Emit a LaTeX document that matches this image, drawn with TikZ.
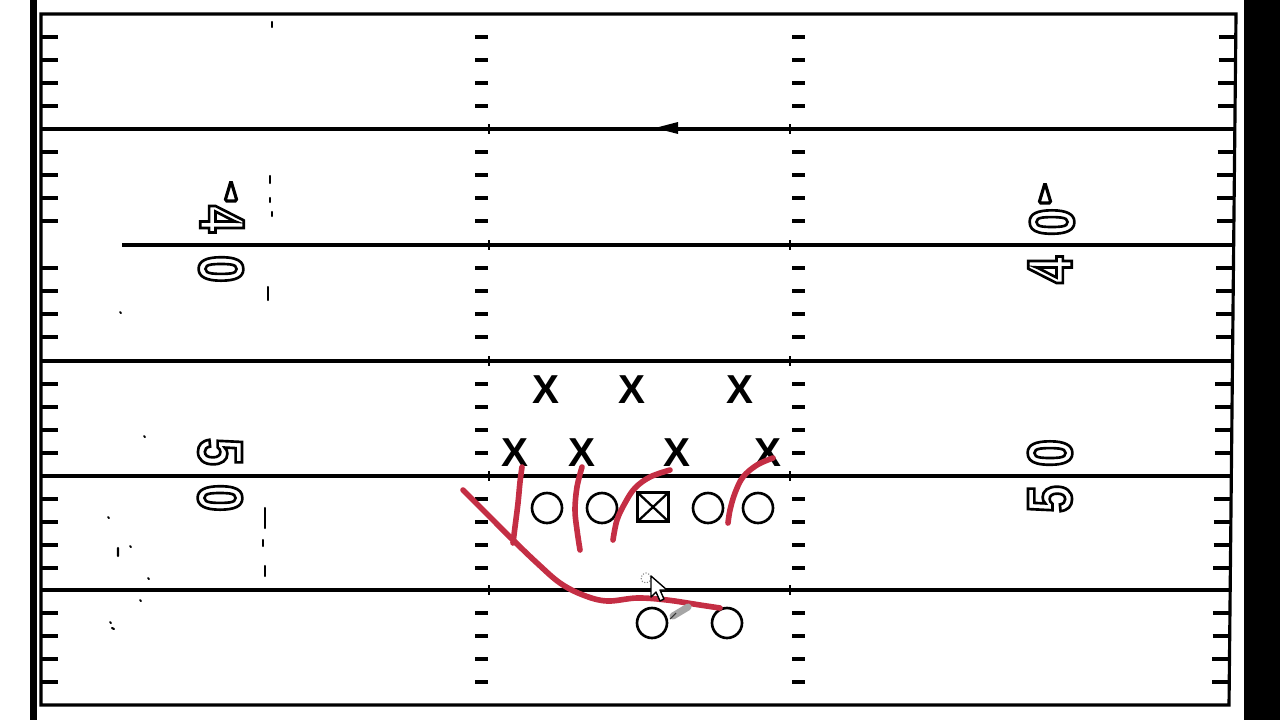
\documentclass[tikz,border=0pt]{standalone}
\usepackage{fontspec}
\setmainfont{Liberation Sans}
\newfontfamily\numfont[FakeStretch=0.78]{Liberation Sans}
\definecolor{routered}{RGB}{196,46,68}
\newcommand\outlinedigit[1]{\special{pdf:literal direct 1 Tr 1.5 w}#1\special{pdf:literal direct 0 Tr}}
\begin{document}
\begin{tikzpicture}[x=0.02cm,y=-0.02cm,
  fieldline/.style={line width=1.8pt},
  tickmark/.style={line width=2.2pt},
  offp/.style={circle,draw,line width=1.5pt,minimum size=0.6cm,inner sep=0pt},
  defp/.style={font=\fontsize{23}{23}\selectfont\bfseries,inner sep=0pt},
  ctrp/.style={rectangle,draw,line width=1.5pt,minimum width=0.62cm,minimum height=0.58cm,inner sep=0pt,
    path picture={\draw[line width=1.3pt] (path picture bounding box.north west) -- (path picture bounding box.south east)
      (path picture bounding box.north east) -- (path picture bounding box.south west);}},
  route/.style={draw=routered,line width=3.2pt,line cap=round,line join=round},
  yardnum/.style={font=\numfont\fontsize{36}{36}\selectfont\bfseries,inner sep=0pt},
  dirmark/.style={draw,fill=white,line width=1.8pt,rounded corners=1pt},
  speck/.style={line width=1.2pt,line cap=round}]
\useasboundingbox (0,0) rectangle (1280,720);
% scan edges
\fill (30,0) rectangle (37,720);
\fill (1244,0) rectangle (1280,720);
% field border
\draw[fieldline] (1236,14) -- (41,14) -- (41,705) -- (1229,705) -- cycle;
% yard lines
\foreach \y in {129,361,476,590}
  \draw[fieldline] (41,\y) -- ({1236-7*(\y-14)/691},\y);
\draw[fieldline] (122,245) -- ({1236-7*(245-14)/691},245);
% small mark on line
\fill (655,128) -- (678,122) -- (678,134) -- cycle;
% side ticks and hash marks
\foreach \L in {14,129,245,361,476,590}{
  \foreach \j in {1,2,3,4}{
    \pgfmathsetmacro\yy{\L+23*\j}
    \pgfmathsetmacro\rx{1236-7*(\yy-14)/691}
    \draw[tickmark] (41,\yy) -- (58,\yy);
    \draw[tickmark] (\rx-17,\yy) -- (\rx,\yy);
    \draw[tickmark] (475,\yy) -- (488,\yy);
    \draw[tickmark] (792,\yy) -- (805,\yy);
  }
}
\foreach \y in {129,245,361,476,590}{
  \draw[line width=1pt] (489,\y-5) -- (489,\y+5);
  \draw[line width=1pt] (790,\y-5) -- (790,\y+5);
}
% scan specks
\draw[speck] (272,22) -- (272,27);
\draw[speck] (270,176) -- (270,183) (270,198) -- (270,202) (272,212) -- (272,216);
\draw[speck] (268,287) -- (268,300);
\draw[speck] (120,312) -- (121,313);
\draw[speck] (144,436) -- (145,437);
\draw[speck] (265,508) -- (265,528) (263,540) -- (263,546) (265,566) -- (265,576);
\draw[speck] (108,517) -- (109,518) (118,548) -- (118,556) (130,546) -- (131,547) (148,578) -- (149,579);
\draw[speck] (110,622) -- (111,623) (112,628) -- (114,629) (140,600) -- (141,601);
% yard numbers (left, read top to bottom)
\node[yardnum,rotate=-90] (l4) at (222,219) {\outlinedigit{4}};
\node[yardnum,rotate=-90] (l0a) at (221,269) {\outlinedigit{0}};
\node[yardnum,rotate=-90] (l5) at (220,452) {\outlinedigit{5}};
\node[yardnum,rotate=-90] (l0b) at (220,498) {\outlinedigit{0}};
% yard numbers (right, read bottom to top)
\node[yardnum,rotate=90] (r0a) at (1052,222) {\outlinedigit{0}};
\node[yardnum,rotate=90] (r4) at (1050,270) {\outlinedigit{4}};
\node[yardnum,rotate=90] (r0b) at (1050,453) {\outlinedigit{0}};
\node[yardnum,rotate=90] (r5) at (1050,499) {\outlinedigit{5}};
% direction marks
\draw[dirmark] (231,181) -- (237,201) -- (225,201) -- cycle;
\draw[dirmark] (1045,183) -- (1051,203) -- (1039,203) -- cycle;
% defense
\node[defp] (d1) at (546,390) {X};
\node[defp] (d2) at (632,390) {X};
\node[defp] (d3) at (740,390) {X};
\node[defp] (d4) at (515,453) {X};
\node[defp] (d5) at (582,453) {X};
\node[defp] (d6) at (677,453) {X};
\node[defp] (d7) at (768,453) {X};
% offense
\node[offp] (o1) at (547,508) {};
\node[offp] (o2) at (602,508) {};
\node[ctrp] (c) at (653,507) {};
\node[offp] (o3) at (708,508) {};
\node[offp] (o4) at (758,508) {};
\node[offp] (b1) at (652,623) {};
\node[offp] (b2) at (727,623) {};
% hand-drawn routes
\draw[route] plot[smooth,tension=0.6] coordinates {(463,490) (490,517) (513,540) (537,563) (560,583) (583,595) (607,601) (637,598) (667,600) (700,605) (720,608)};
\draw[route] plot[smooth,tension=0.6] coordinates {(522,467) (520,482) (518,503) (515,527) (513,543)};
\draw[route] plot[smooth,tension=0.6] coordinates {(582,467) (577,487) (575,510) (577,530) (580,550)};
\draw[route] plot[smooth,tension=0.6] coordinates {(670,470) (650,477) (635,488) (625,503) (617,520) (613,540)};
\draw[route] plot[smooth,tension=0.6] coordinates {(773,458) (757,465) (743,477) (735,493) (730,510) (728,523)};
% screen cursor and brush
\draw[gray,densely dotted,line width=0.6pt] (646,578) circle (5);
\draw[fill=white,line width=0.8pt,line join=round] (651,576) -- (651,597) -- (656,592) -- (660,601) -- (664,599) -- (660,590) -- (667,590) -- cycle;
\draw[gray!70,line width=4pt,line cap=round] (673,616) -- (688,607);
\draw[gray!40!black,line width=0.6pt] (670,619) -- (676,613);
\end{tikzpicture}
\end{document}
